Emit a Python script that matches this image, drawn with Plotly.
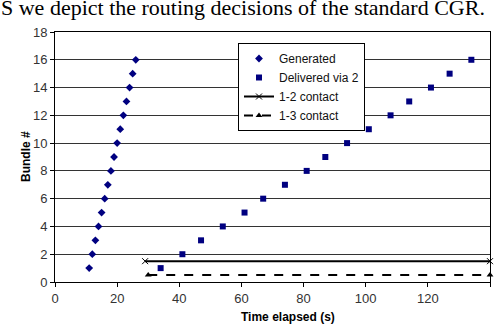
import plotly.graph_objects as go

bundles = list(range(1, 17))
gen_time = [11, 12, 13, 14, 15, 16, 17, 18, 19, 20, 21, 22, 23, 24, 25, 26]
del_time = [34, 41, 47, 54, 61, 67, 74, 81, 87, 94, 101, 108, 114, 121, 127, 134]
c12_x = [29, 140]
c12_y = [1.5, 1.5]
c13_x = [30, 140]
c13_y = [0.5, 0.5]
x_ticks = [0, 20, 40, 60, 80, 100, 120, 140]
y_ticks = [0, 2, 4, 6, 8, 10, 12, 14, 16, 18]

navy = "#000080"
L, R, T, B = 55, 10, 32, 42
PW, PH = 500 - L - R, 324 - T - B


def px(xp):
    return (xp - L) / PW


def py(yp):
    return (324 - B - yp) / PH


fig = go.Figure()
fig.add_trace(go.Scatter(x=gen_time, y=bundles, mode="markers", name="Generated",
                         marker=dict(symbol="diamond", size=6, color=navy)))
fig.add_trace(go.Scatter(x=del_time, y=bundles, mode="markers", name="Delivered via 2",
                         marker=dict(symbol="square", size=6, color=navy)))
fig.add_trace(go.Scatter(x=c12_x, y=c12_y, mode="lines+markers", name="1-2 contact",
                         line=dict(color="black", width=2),
                         marker=dict(symbol="x-thin", size=6, color="black",
                                     line=dict(width=1, color="black")),
                         cliponaxis=False))
fig.add_trace(go.Scatter(x=c13_x, y=c13_y, mode="lines+markers", name="1-3 contact",
                         line=dict(color="black", width=2, dash="dash"),
                         marker=dict(symbol="triangle-up", size=6, color="black"),
                         cliponaxis=False))

fig.update_layout(
    width=500, height=324,
    margin=dict(l=L, r=R, t=T, b=B),
    paper_bgcolor="white", plot_bgcolor="white",
    font=dict(family="Liberation Sans, Arial", size=13, color="#333"),
    showlegend=True,
    legend=dict(x=px(238), y=py(43), xanchor="left", yanchor="top",
                bgcolor="white", bordercolor="black", borderwidth=1,
                font=dict(size=12, color="#111"), tracegroupgap=0,
                itemwidth=30),
    annotations=[
        dict(text="S we depict the routing decisions of the standard CGR.",
             xref="paper", yref="paper", x=px(-1), y=py(22),
             xanchor="left", yanchor="bottom", showarrow=False,
             font=dict(family="Liberation Serif, Times New Roman", size=22, color="black")),
        dict(text="<b>Time elapsed (s)</b>", xref="paper", yref="paper",
             x=px(288), y=py(317), xanchor="center", yanchor="middle",
             showarrow=False, font=dict(size=12, color="black")),
        dict(text="<b>Bundle #</b>", xref="paper", yref="paper",
             x=px(26), y=py(157), xanchor="center", yanchor="middle",
             textangle=-90, showarrow=False, font=dict(size=12, color="black")),
    ],
)
fig.update_xaxes(range=[0, 140], tickvals=x_ticks, showgrid=False,
                 showline=True, linecolor="black", linewidth=1, mirror=True,
                 ticks="outside", ticklen=4, tickcolor="black", zeroline=False)
fig.update_yaxes(range=[0, 18], tickvals=y_ticks, showgrid=True, gridcolor="#333",
                 gridwidth=1, showline=True, linecolor="black", linewidth=1, mirror=True,
                 ticks="outside", ticklen=4, tickcolor="black", zeroline=False)

fig.write_html("out.html")
